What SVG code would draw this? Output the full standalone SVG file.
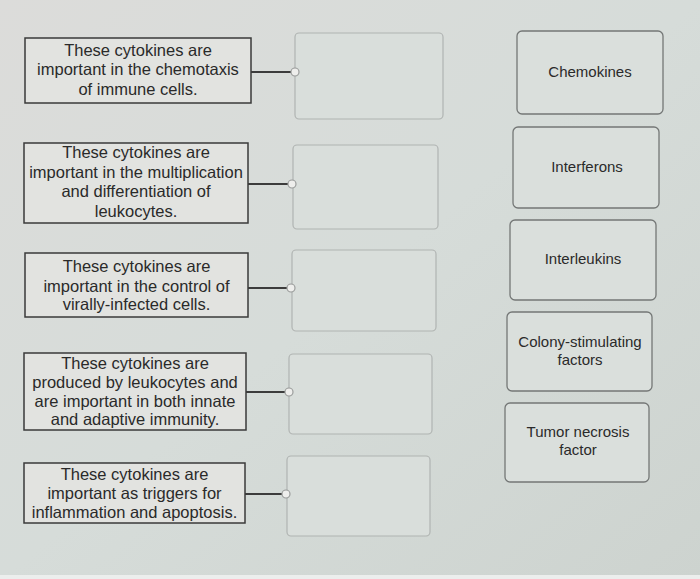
<svg xmlns="http://www.w3.org/2000/svg" width="700" height="579" viewBox="0 0 700 579">
<defs>
<linearGradient id="bg" x1="0" y1="0" x2="1" y2="1">
<stop offset="0" stop-color="#dcdcda"/>
<stop offset="0.5" stop-color="#d6dcd9"/>
<stop offset="1" stop-color="#cdd3cf"/>
</linearGradient>
<style>
.desc rect{fill:#e2e3e0;stroke:#3a3a3a;stroke-width:1.5}
.desc text{font-family:"Liberation Sans",Arial,sans-serif;font-size:16.5px;fill:#2a2a2a;text-anchor:middle}
.drop rect{fill:#d9dedb;stroke:#b0b4b2;stroke-width:1.2}
.term rect{fill:#dadfdc;stroke:#747776;stroke-width:1.3}
.term text{font-family:"Liberation Sans",Arial,sans-serif;font-size:15px;fill:#2a2a2a;text-anchor:middle}
.conn line{stroke:#3c3c3c;stroke-width:2.2}
.conn circle{fill:#eeeeec;stroke:#9a9c9b;stroke-width:1.2}
</style>
</defs>
<rect x="0" y="0" width="700" height="579" fill="url(#bg)"/>
<rect x="0" y="575" width="700" height="4" fill="#eceeed"/>

<g id="desc1" class="desc">
<rect x="25" y="38" width="226" height="65"/>
<text x="138" y="55.5">These cytokines are</text>
<text x="138" y="75">important in the chemotaxis</text>
<text x="138" y="94.5">of immune cells.</text>
</g>
<g id="desc2" class="desc">
<rect x="24" y="143" width="224" height="80"/>
<text x="136" y="157.5">These cytokines are</text>
<text x="136" y="177.5">important in the multiplication</text>
<text x="136" y="197">and differentiation of</text>
<text x="136" y="216.5">leukocytes.</text>
</g>
<g id="desc3" class="desc">
<rect x="25" y="253" width="223" height="64"/>
<text x="136.5" y="272">These cytokines are</text>
<text x="136.5" y="292">important in the control of</text>
<text x="136.5" y="310">virally-infected cells.</text>
</g>
<g id="desc4" class="desc">
<rect x="24" y="353" width="222" height="77"/>
<text x="135" y="368.5">These cytokines are</text>
<text x="135" y="387.5">produced by leukocytes and</text>
<text x="135" y="406.5">are important in both innate</text>
<text x="135" y="425">and adaptive immunity.</text>
</g>
<g id="desc5" class="desc">
<rect x="24" y="463" width="221" height="60"/>
<text x="134.5" y="480">These cytokines are</text>
<text x="134.5" y="498.5">important as triggers for</text>
<text x="134.5" y="517.5">inflammation and apoptosis.</text>
</g>

<g id="drop1" class="drop"><rect x="295" y="33" width="148" height="86" rx="4"/></g>
<g id="drop2" class="drop"><rect x="293" y="145" width="145" height="84" rx="4"/></g>
<g id="drop3" class="drop"><rect x="292" y="250" width="144" height="81" rx="4"/></g>
<g id="drop4" class="drop"><rect x="289" y="354" width="143" height="80" rx="4"/></g>
<g id="drop5" class="drop"><rect x="287" y="456" width="143" height="80" rx="4"/></g>

<g id="connectors" class="conn">
<line x1="251" y1="72" x2="291" y2="72"/><circle cx="295" cy="72" r="4"/>
<line x1="248" y1="184" x2="288" y2="184"/><circle cx="292" cy="184" r="4"/>
<line x1="248" y1="288" x2="287" y2="288"/><circle cx="291" cy="288" r="4"/>
<line x1="246" y1="392" x2="285" y2="392"/><circle cx="289" cy="392" r="4"/>
<line x1="245" y1="494" x2="282" y2="494"/><circle cx="286" cy="494" r="4"/>
</g>

<g id="term1" class="term">
<rect x="517" y="31" width="146" height="83" rx="5"/>
<text x="590" y="77">Chemokines</text>
</g>
<g id="term2" class="term">
<rect x="513" y="127" width="146" height="81" rx="5"/>
<text x="587" y="172">Interferons</text>
</g>
<g id="term3" class="term">
<rect x="510" y="220" width="146" height="80" rx="5"/>
<text x="583" y="264">Interleukins</text>
</g>
<g id="term4" class="term">
<rect x="507" y="312" width="145" height="79" rx="5"/>
<text x="580" y="347">Colony-stimulating</text>
<text x="580" y="365">factors</text>
</g>
<g id="term5" class="term">
<rect x="505" y="403" width="144" height="79" rx="5"/>
<text x="578" y="437">Tumor necrosis</text>
<text x="578" y="455">factor</text>
</g>
</svg>
